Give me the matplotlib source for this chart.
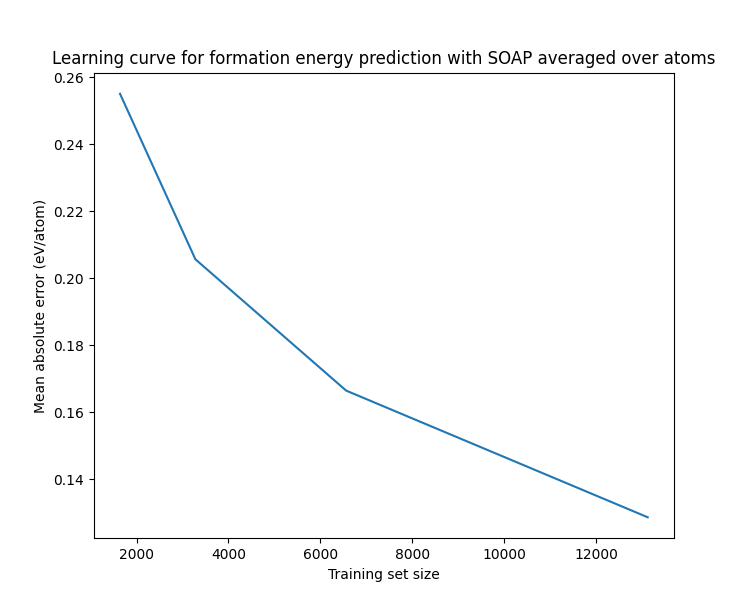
import matplotlib
matplotlib.use("Agg")
import matplotlib.pyplot as plt

train_sizes = [1640, 3280, 6560, 13120]
mae = [0.2551, 0.2057, 0.1665, 0.1287]

plt.figure(figsize=(7.49, 6.05), dpi=100)
plt.plot(train_sizes, mae)
plt.title("Learning curve for formation energy prediction with SOAP averaged over atoms")
plt.xlabel("Training set size")
plt.ylabel("Mean absolute error (eV/atom)")
plt.savefig("out.png", dpi=100)
